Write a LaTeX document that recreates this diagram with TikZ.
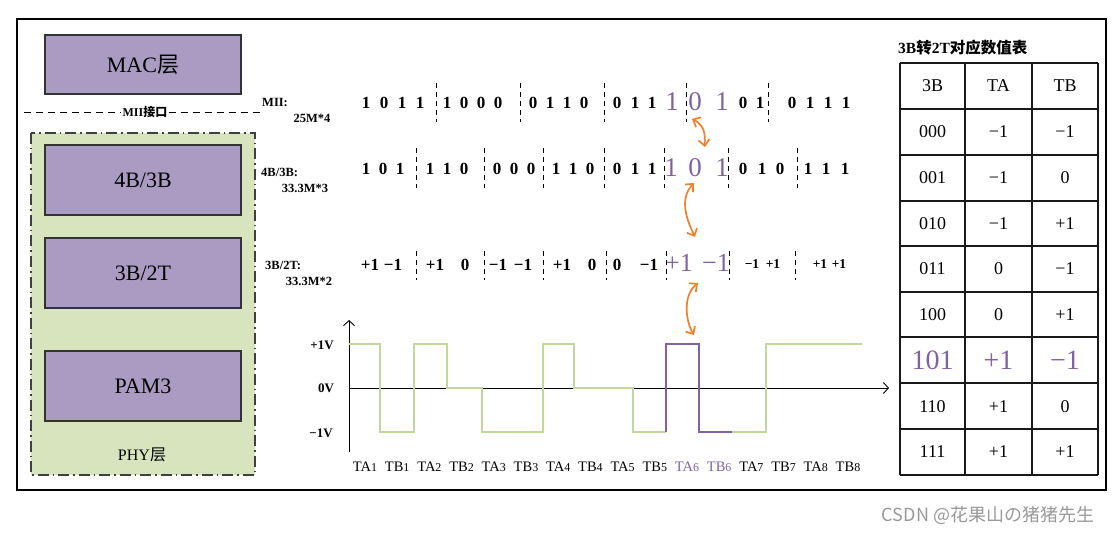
\documentclass[tikz,border=0pt]{standalone}
\usepackage{fontspec}
\setmainfont{Liberation Serif}
\newfontfamily\cjk{Noto Sans CJK SC}
\usetikzlibrary{arrows.meta}
\definecolor{boxpurple}{HTML}{A99BC1}
\definecolor{txtpurple}{HTML}{8064A2}
\definecolor{phygreen}{HTML}{D7E4BD}
\definecolor{wavegreen}{HTML}{C3D69B}
\definecolor{arroworange}{HTML}{F0802A}
\newcommand\myfs[1]{\fontsize{#1bp}{#1bp}\selectfont}
\begin{document}
\begin{tikzpicture}[x=1bp,y=-1bp,
  layer/.style={draw=black!80, line width=1.3bp, fill=boxpurple, minimum width=196bp, inner sep=0pt, font=\myfs{22}},
  lbl/.style={font=\myfs{12.5}\bfseries, inner sep=0pt},
  dig/.style={font=\myfs{17}\bfseries, inner sep=0pt},
  sdig/.style={font=\myfs{13.5}\bfseries, inner sep=0pt},
  pdig/.style={font=\myfs{27}, text=txtpurple, inner sep=0pt},
  divider/.style={line width=0.9bp, dash pattern=on 5bp off 4bp},
  oarr/.style={draw=arroworange, line width=1.7bp, {Straight Barb[length=6bp,width=11bp]}-{Straight Barb[length=6bp,width=11bp]}},
  axisline/.style={line width=0.9bp, -{Straight Barb[length=5bp,width=11bp]}},
  tlbl/.style={font=\myfs{14.5}, inner sep=0pt},
  cell/.style={font=\myfs{18}, inner sep=0pt},
  pcell/.style={font=\myfs{28}, text=txtpurple, inner sep=0pt},
  grid/.style={line width=1.5bp, draw=black!90}
]
\useasboundingbox (0,0) rectangle (1119,534);
\fill[white] (0,0) rectangle (1119,534);
% outer frame
\draw[line width=1.5bp] (17,19) rectangle (1106,490);
% PHY region
\draw[fill=phygreen, draw=black!75, line width=1.5bp, dash pattern=on 11bp off 4bp on 1.5bp off 4bp] (31,133) rectangle (255,475);
\node[font=\myfs{16}, inner sep=0pt] (phy) at (142,455) {PHY{\cjk 层}};
% layer boxes
\node[layer, minimum height=59bp] (mac) at (143,64.5) {MAC{\cjk 层}};
\node[layer, minimum height=70bp] (b43) at (143,180) {4B/3B};
\node[layer, minimum height=70bp] (b32) at (143,273) {3B/2T};
\node[layer, minimum height=70bp] (pam) at (143,386) {PAM3};
% MII interface line
\node[font=\myfs{12}\bfseries, inner sep=1pt] (miiif) at (145,112) {MII{\cjk 接口}};
\coordinate (miiL) at (24,112);
\coordinate (miiR) at (263,112);
\draw[line width=0.9bp, dash pattern=on 7bp off 5bp] (miiL) -- (miiif.west);
\draw[line width=0.9bp, dash pattern=on 7bp off 5bp] (miiif.east) -- (miiR);
% row labels
\node[lbl, anchor=west] (l1a) at (262,102) {MII:};
\node[lbl] (l1b) at (312,118) {25M*4};
\node[lbl, anchor=west] (l2a) at (261,172) {4B/3B:};
\node[lbl] (l2b) at (305,188) {33.3M*3};
\node[lbl, anchor=west] (l3a) at (265,265) {3B/2T:};
\node[lbl] (l3b) at (309,281) {33.3M*2};
% row 1 (MII)
\foreach \x/\t in {366/1,384/0,402/1,420/1,447/1,464/0,481/0,498/0,533/0,550/1,567/1,584/0,617/0,635/1,652/1,743/0,760/1,792/0,810/1,828/1,846/1}
  \node[dig] (r1-\x) at (\x,103) {\t};
\node[pdig] (r1p1) at (672,102) {1};
\node[pdig] (r1p2) at (695,102) {0};
\node[pdig] (r1p3) at (722,102) {1};
\foreach \x in {436,520,604,686,768}
  \draw[divider] (\x,83) -- (\x,122);
% row 2 (4B/3B)
\foreach \x/\t in {366/1,383/0,400/1,430/1,447/1,464/0,497/0,514/0,531/0,556/1,573/1,590/0,617/0,635/1,652/1,743/0,762/1,780/0,808/1,826/1,845/1}
  \node[dig] (r2-\x) at (\x,169) {\t};
\node[pdig] (r2p1) at (671,168) {1};
\node[pdig] (r2p2) at (695,168) {0};
\node[pdig] (r2p3) at (722,168) {1};
\foreach \x in {416,484,543,604,664,728,797}
  \draw[divider] (\x,148) -- (\x,188);
% row 3 (3B/2T)
\foreach \x/\t in {370/+1,393/−1,435/+1,465/0,498/−1,523/−1,562/+1,592/0,617/0,649/−1}
  \node[dig] (r3-\x) at (\x,265) {\t};
\foreach \x/\t in {752/−1,773/+1,820/+1,839/+1}
  \node[sdig] (r3s-\x) at (\x,264) {\t};
\node[pdig, font=\myfs{26}] (r3p1) at (679,263) {+1};
\node[pdig, font=\myfs{26}] (r3p2) at (716,263) {−1};
\foreach \x in {416,484,543,606,666,729,795}
  \draw[divider] (\x,251) -- (\x,280);
% orange double arrows
\coordinate (a1) at (692,119);
\coordinate (a2) at (705,147);
\coordinate (b1) at (694,183);
\coordinate (b2) at (695,237);
\coordinate (c1) at (698,283);
\coordinate (c2) at (694,335);
\draw[oarr] (a1) .. controls (708,127) and (704,140) .. (a2);
\draw[oarr] (b1) .. controls (678,200) and (688,222) .. (b2);
\draw[oarr] (c1) .. controls (682,296) and (686,322) .. (c2);
% axes
\draw[axisline] (349,452) -- (349,320);
\draw[axisline] (349,388) -- (889,388);
\node[lbl, font=\myfs{13}\bfseries] (vp) at (322,345) {+1V};
\node[lbl, font=\myfs{13}\bfseries] (v0) at (326,388) {0V};
\node[lbl, font=\myfs{13}\bfseries] (vm) at (321,433) {−1V};
% waveform
\draw[wavegreen, line width=2bp, line join=miter]
  (349,344) -- (380,344) -- (380,432) -- (414,432) -- (414,344) -- (447,344) -- (447,388) -- (482,388) -- (482,432) -- (543,432) -- (543,344) -- (574,344) -- (574,388) -- (633,388) -- (633,432) -- (666,432);
\draw[txtpurple, line width=2bp] (666,432) -- (666,344) -- (699,344) -- (699,432) -- (732,432);
\draw[wavegreen, line width=2bp] (732,432) -- (766,432) -- (766,344) -- (862,344);
% time slot labels
\foreach \i/\n/\d in {0/TA/1,1/TB/1,2/TA/2,3/TB/2,4/TA/3,5/TB/3,6/TA/4,7/TB/4,8/TA/5,9/TB/5,12/TA/7,13/TB/7,14/TA/8,15/TB/8}
  \node[tlbl] (t\i) at ({365+32.2*\i},467) {\n{\myfs{12}\d}};
\node[tlbl, text=txtpurple] (t10) at ({365+32.2*10},467) {TA{\myfs{12}6}};
\node[tlbl, text=txtpurple] (t11) at ({365+32.2*11},467) {TB{\myfs{12}6}};
% table
\node[font=\myfs{15.5}\bfseries, inner sep=0pt, anchor=west] (ttl) at (898,48) {3B{\cjk 转}2T{\cjk 对应数值表}};
\foreach \y in {63,109,155,201,246,292,337,383,429,475}
  \draw[grid] (900,\y) -- (1098,\y);
\foreach \x in {900,965,1032,1098}
  \draw[grid] (\x,63) -- (\x,475);
\foreach \r/\a/\b/\c in {0/3B/TA/TB,1/000/−1/−1,2/001/−1/0,3/010/−1/+1,4/011/0/−1,5/100/0/+1,7/110/+1/0,8/111/+1/+1}{
  \node[cell] (c\r a) at (932.5,{86+45.75*\r}) {\a};
  \node[cell] (c\r b) at (998.5,{86+45.75*\r}) {\b};
  \node[cell] (c\r c) at (1065,{86+45.75*\r}) {\c};
}
\node[pcell] (c6a) at (932.5,{86+45.75*6}) {101};
\node[pcell] (c6b) at (998.5,{86+45.75*6}) {+1};
\node[pcell] (c6c) at (1065,{86+45.75*6}) {−1};
% watermark
\node[font=\myfs{18}\cjk, text=black!40, inner sep=0pt] (wm) at (988,515) {CSDN @花果山の猪猪先生};
\end{tikzpicture}
\end{document}
